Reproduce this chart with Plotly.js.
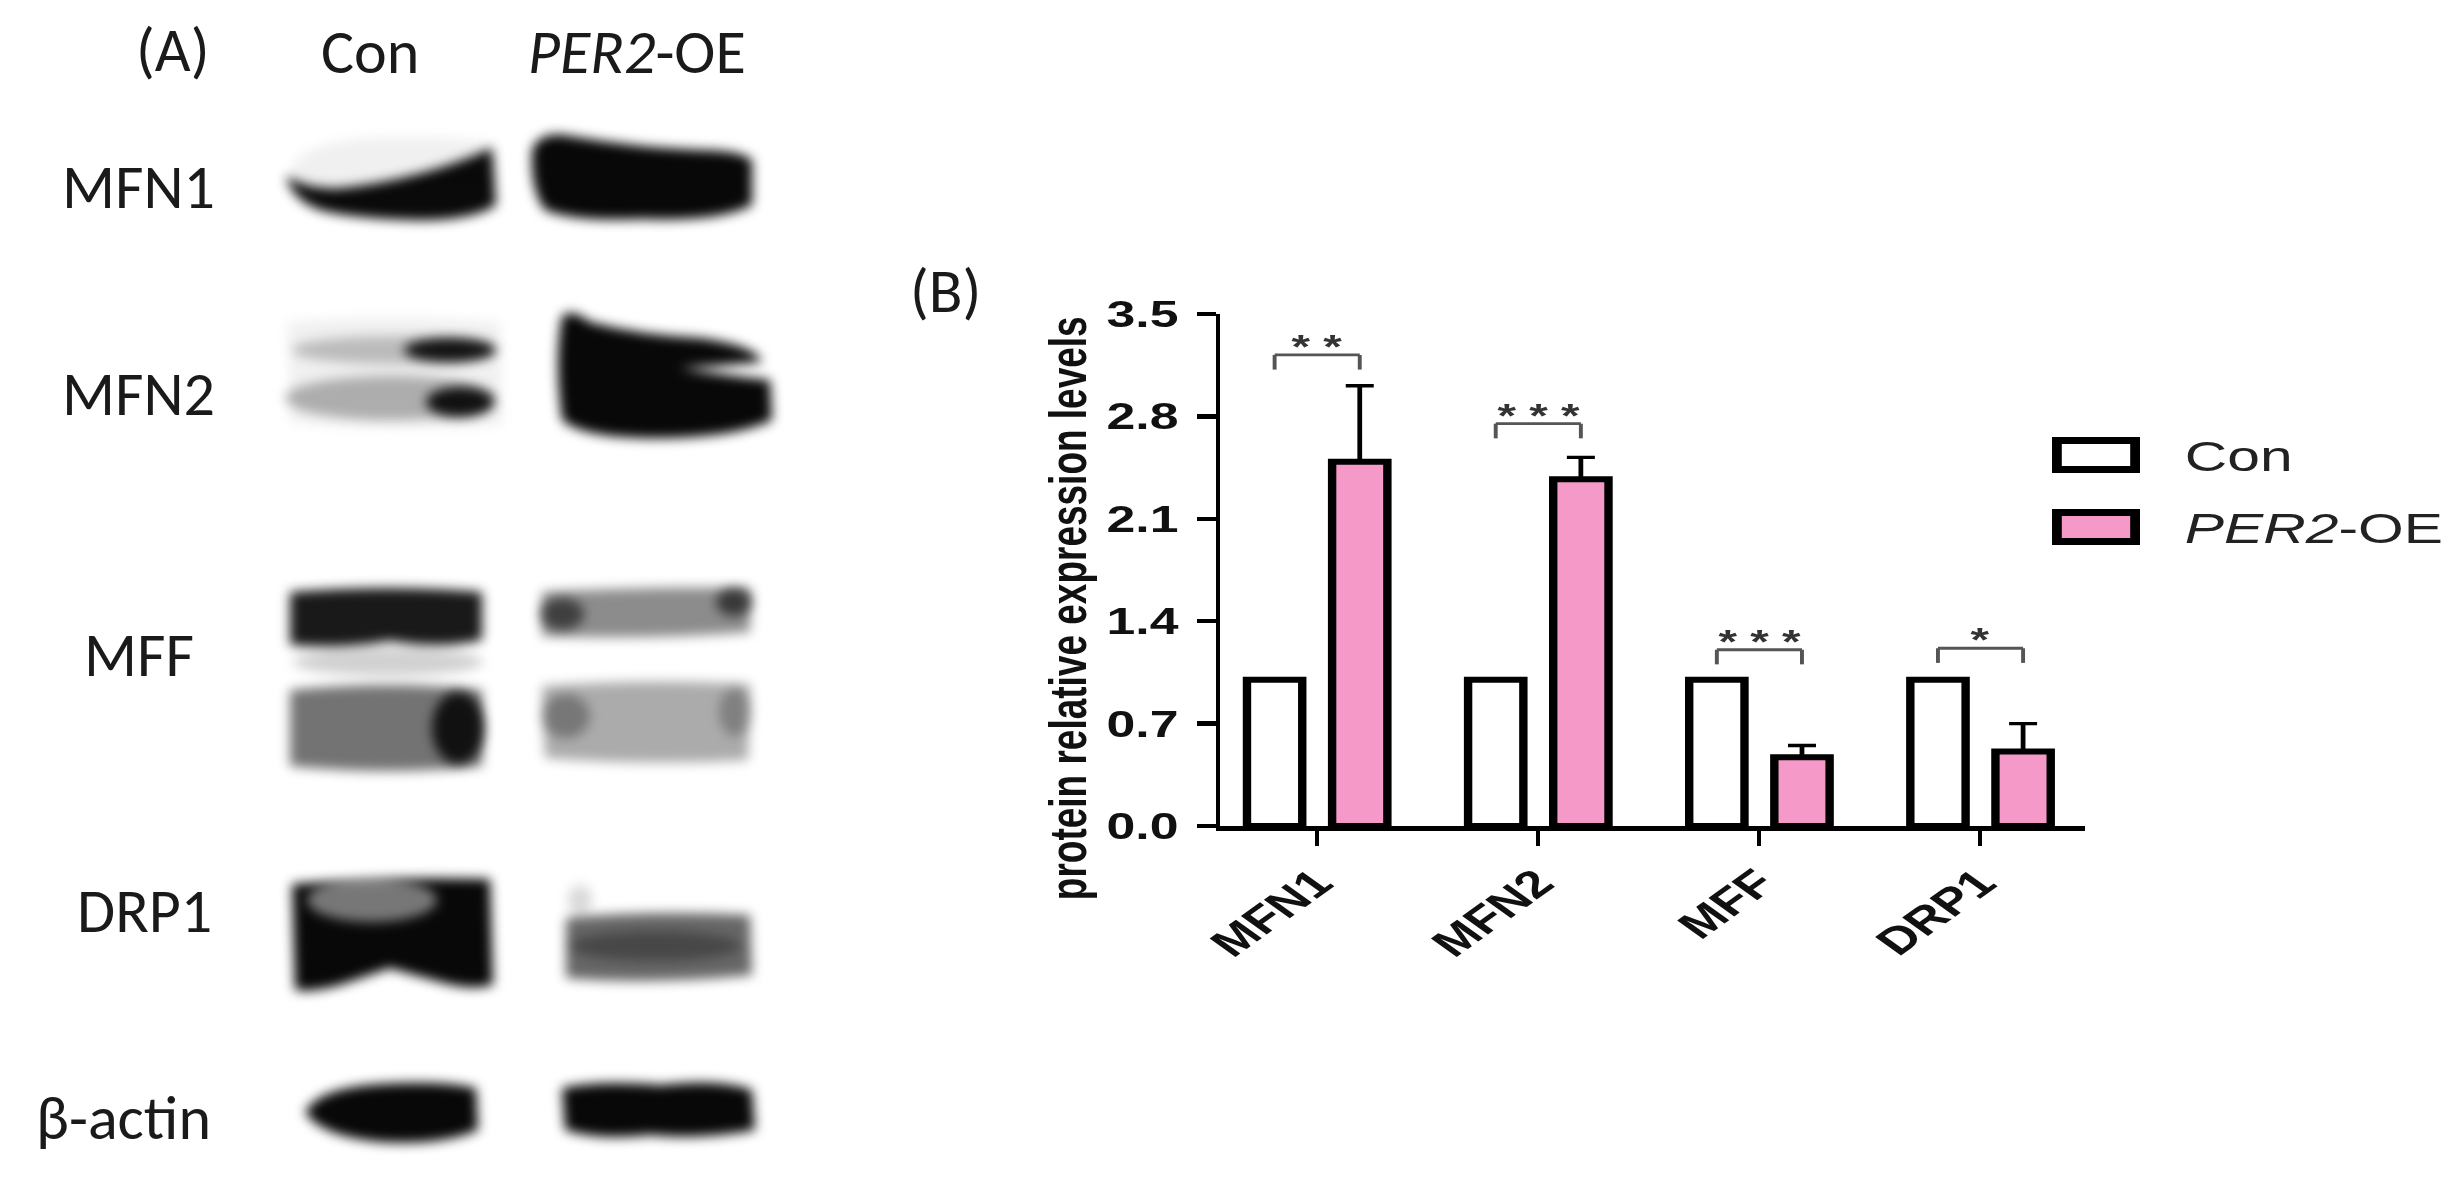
<!DOCTYPE html>
<html>
<head>
<meta charset="utf-8">
<script src="https://cdn.plot.ly/plotly-3.0.1.min.js"></script>
<style>
html, body { margin: 0; padding: 0; background: #ffffff; }
#wrap { position: relative; width: 2448px; height: 1183px; overflow: hidden; background: #ffffff; }
#panelA { position: absolute; left: 0; top: 0; width: 2448px; height: 1183px; }
#panelB { position: absolute; left: 880px; top: 0; height: 1183px; transform: scaleX(1.4); transform-origin: 0 0; }
</style>
</head>
<body>
<div id="wrap"><div id="panelA"></div><div id="panelB"></div></div>
<script>
// ---------------- data ----------------
const categories = ['MFN1', 'MFN2', 'MFF', 'DRP1'];
const conValues = [1.0, 1.0, 1.0, 1.0];
const per2Values = [2.49, 2.37, 0.47, 0.51];
const per2Errors = [0.52, 0.15, 0.08, 0.19];
const significance = ['**', '***', '***', '*'];
const bracketLevels = [3.22, 2.75, 1.205, 1.215];
const yTicks = [0, 0.7, 1.4, 2.1, 2.8, 3.5];
const seriesNames = ['Con', '<i>PER2</i>-OE'];
const blotRows = ['MFN1', 'MFN2', 'MFF', 'DRP1', 'β-actin'];
const blotLanes = ['Con', '<i>PER2</i>-OE'];

// ---------------- geometry / style ----------------
const W = 2448, H = 1183;
const S = 1.4, BX0 = 880, WB = (W - BX0) / S;
const bx = X => (X - BX0) / S;
const pxB = X => bx(X) / WB;
const pyP = Y => 1 - Y / H;
const PINK = '#f59ac8';
const BOLD_FONT = 'Liberation Sans, Arial, Helvetica, sans-serif';
const A_FONT = 'Carlito, Lato, Calibri, sans-serif';
const conCenter = -0.19, perCenter = 0.195, barW = 0.25;
const xIdx = categories.map((c, i) => i);

// ---------------- panel B: bar chart ----------------
const traces = [
  {
    type: 'bar', name: 'Con', x: xIdx, y: conValues,
    width: barW, offset: conCenter - barW / 2,
    marker: { color: '#ffffff', line: { color: '#000000', width: 6 } },
    hoverinfo: 'skip'
  },
  {
    type: 'bar', name: 'PER2-OE', x: xIdx, y: per2Values,
    width: barW, offset: perCenter - barW / 2,
    marker: { color: PINK, line: { color: '#000000', width: 6 } },
    error_y: { type: 'data', array: per2Errors, arrayminus: per2Errors.map(() => 0), symmetric: false,
               color: '#000000', thickness: 3.4, width: 10 },
    hoverinfo: 'skip'
  }
];

const shapesB = [];
const annB = [];
const drop = 0.1;
categories.forEach((c, i) => {
  const x0 = i + conCenter, x1 = i + perCenter, y = bracketLevels[i];
  const ln = { color: '#555555', width: 2.8 };
  shapesB.push({ type: 'line', xref: 'x', yref: 'y', x0: x0, x1: x1, y0: y, y1: y, line: ln });
  shapesB.push({ type: 'line', xref: 'x', yref: 'y', x0: x0, x1: x0, y0: y, y1: y - drop, line: ln });
  shapesB.push({ type: 'line', xref: 'x', yref: 'y', x0: x1, x1: x1, y0: y, y1: y - drop, line: ln });
  annB.push({ xref: 'x', yref: 'y', x: (x0 + x1) / 2, y: y, yanchor: 'middle', xanchor: 'center', yshift: 9,
              text: significance[i].split('').join(' '), showarrow: false,
              font: { family: BOLD_FONT, size: 34, weight: 'bold', color: '#333333' } });
});

// legend (drawn)
const legendRows = [{ top: 437, bottom: 473, fill: '#ffffff' }, { top: 509, bottom: 545, fill: PINK }];
legendRows.forEach((r, k) => {
  shapesB.push({ type: 'rect', xref: 'paper', yref: 'paper',
    x0: pxB(2052 + 4.9), x1: pxB(2140 - 4.9), y0: pyP(r.bottom - 3.5), y1: pyP(r.top + 3.5),
    fillcolor: r.fill, line: { color: '#000000', width: 7 } });
  annB.push({ xref: 'paper', yref: 'paper', x: pxB(2182), y: pyP((r.top + r.bottom) / 2 + 1),
    xanchor: 'left', yanchor: 'middle', text: seriesNames[k], showarrow: false,
    font: { family: BOLD_FONT, size: 42, color: '#222222' } });
});

// y-axis title
annB.push({ xref: 'paper', yref: 'paper', x: pxB(1068), y: pyP(608), xanchor: 'center', yanchor: 'middle',
  textangle: -90, text: 'protein relative expression levels', showarrow: false,
  font: { family: BOLD_FONT, size: 37, weight: 'bold', color: '#111111' } });

const layoutB = {
  width: WB, height: H,
  margin: { l: 0, r: 0, t: 0, b: 0 },
  paper_bgcolor: 'rgba(0,0,0,0)', plot_bgcolor: 'rgba(0,0,0,0)',
  showlegend: false, barmode: 'overlay',
  xaxis: {
    domain: [pxB(1220), pxB(2085)], range: [-0.437, 3.475],
    tickmode: 'array', tickvals: xIdx, ticktext: categories, tickangle: -45,
    showline: true, linewidth: 4.5, linecolor: '#000000',
    ticks: 'outside', ticklen: 15, tickwidth: 3, tickcolor: '#000000',
    showgrid: false, zeroline: false, fixedrange: true,
    tickfont: { family: BOLD_FONT, size: 38, weight: 'bold', color: '#111111' }
  },
  yaxis: {
    domain: [pyP(826), pyP(314)], range: [0, 3.5],
    tickmode: 'array', tickvals: yTicks, ticktext: yTicks.map(v => v.toFixed(1)),
    showline: true, linewidth: 3.2, linecolor: '#000000',
    ticks: 'outside', ticklen: 13, tickwidth: 4.5, tickcolor: '#000000',
    ticklabelstandoff: 6,
    showgrid: false, zeroline: false, fixedrange: true,
    tickfont: { family: BOLD_FONT, size: 37, weight: 'bold', color: '#111111' }
  },
  shapes: shapesB,
  annotations: annB
};

// ---------------- panel A: western blot (picture, approximated) ----------------
function ell(cx, cy, rx, ry) {
  const k = 0.5523, ox = rx * k, oy = ry * k;
  return `M ${cx - rx} ${cy} C ${cx - rx} ${cy - oy} ${cx - ox} ${cy - ry} ${cx} ${cy - ry} ` +
         `C ${cx + ox} ${cy - ry} ${cx + rx} ${cy - oy} ${cx + rx} ${cy} ` +
         `C ${cx + rx} ${cy + oy} ${cx + ox} ${cy + ry} ${cx} ${cy + ry} ` +
         `C ${cx - ox} ${cy + ry} ${cx - rx} ${cy + oy} ${cx - rx} ${cy} Z`;
}
const k = a => `rgba(0,0,0,${a})`;
const blotShapes = [
  // MFN1
  { p: 'M 292 165 Q 310 140 380 138 Q 460 136 494 144 L 496 185 Q 420 195 340 190 Q 300 188 292 175 Z', f: k(0.06) },
  { p: 'M 286 176 Q 310 190 340 188 Q 420 180 492 148 L 496 205 Q 470 222 410 220 Q 350 218 320 210 Q 292 200 286 176 Z', f: k(0.96) },
  { p: 'M 532 150 Q 540 130 570 136 Q 640 148 700 150 Q 740 150 752 160 L 752 205 Q 720 222 640 219 Q 575 222 545 210 Q 530 190 532 150 Z', f: k(0.97) },
  // MFN2
  { p: 'M 288 322 Q 390 314 500 322 L 502 424 Q 400 432 290 422 Z', f: k(0.06) },
  { p: ell(392, 350, 100, 14), f: k(0.22) },
  { p: ell(450, 350, 46, 12), f: k(0.9) },
  { p: ell(390, 398, 105, 22), f: k(0.28) },
  { p: ell(460, 402, 34, 15), f: k(0.9) },
  { p: 'M 562 316 Q 572 308 590 322 Q 640 335 700 338 Q 745 344 758 356 L 762 362 Q 720 366 680 368 Q 730 376 770 380 L 772 420 Q 730 440 640 438 Q 580 436 562 420 Q 554 360 562 316 Z', f: k(0.97) },
  // MFF
  { p: 'M 290 592 Q 390 584 482 592 L 482 640 Q 440 650 390 641 Q 340 650 290 645 Z', f: k(0.9) },
  { p: ell(388, 662, 95, 14), f: k(0.18) },
  { p: 'M 290 690 Q 390 680 482 690 L 482 766 Q 390 776 290 766 Z', f: k(0.55) },
  { p: ell(458, 728, 26, 36), f: k(0.85) },
  { p: 'M 542 592 Q 650 586 750 588 L 750 632 Q 650 640 542 636 Z', f: k(0.45) },
  { p: ell(562, 614, 22, 16), f: k(0.55) },
  { p: ell(734, 602, 18, 14), f: k(0.6) },
  { p: 'M 542 686 Q 650 678 750 684 L 748 760 Q 650 766 545 758 Z', f: k(0.33) },
  { p: ell(566, 716, 24, 22), f: k(0.3) },
  { p: ell(735, 712, 16, 24), f: k(0.25) },
  // DRP1
  { p: 'M 292 884 Q 390 876 490 879 L 493 985 Q 470 991 440 982 Q 400 971 390 968 Q 370 975 340 985 Q 310 993 295 990 Z', f: k(0.97) },
  { p: ell(372, 900, 65, 22), f: 'rgba(255,255,255,0.45)' },
  { p: 'M 566 918 Q 650 910 750 915 L 752 975 Q 650 985 566 978 Z', f: k(0.6) },
  { p: ell(580, 900, 12, 15), f: k(0.15) },
  { p: ell(655, 946, 85, 15), f: k(0.3) },
  // beta-actin
  { p: 'M 305 1112 Q 318 1088 380 1084 Q 440 1080 476 1088 L 478 1130 Q 440 1146 380 1142 Q 320 1136 305 1112 Z', f: k(0.97) },
  { p: 'M 562 1088 Q 600 1080 660 1085 Q 720 1078 752 1090 L 755 1130 Q 700 1140 650 1135 Q 600 1141 565 1130 Z', f: k(0.97) }
];
const shapesA = blotShapes.map(b => ({ type: 'path', xref: 'x', yref: 'y', path: b.p, fillcolor: b.f, line: { width: 0 } }));

const rowLabelPos = [[138, 187], [138, 394], [139, 655], [144, 911], [123, 1118]];
const laneLabelPos = [[370, 52], [637, 52]];
const annA = [];
const fA = { family: A_FONT, size: 62, color: '#1a1a1a' };
annA.push({ xref: 'x', yref: 'y', x: 172, y: 50, text: '(A)', showarrow: false, font: fA, xanchor: 'center', yanchor: 'middle' });
annA.push({ xref: 'x', yref: 'y', x: 945, y: 291, text: '(B)', showarrow: false, font: fA, xanchor: 'center', yanchor: 'middle' });
blotLanes.forEach((t, i) => annA.push({ xref: 'x', yref: 'y', x: laneLabelPos[i][0], y: laneLabelPos[i][1], text: t,
  showarrow: false, font: fA, xanchor: 'center', yanchor: 'middle' }));
blotRows.forEach((t, i) => annA.push({ xref: 'x', yref: 'y', x: rowLabelPos[i][0], y: rowLabelPos[i][1], text: t,
  showarrow: false, font: fA, xanchor: 'center', yanchor: 'middle' }));

const layoutA = {
  width: W, height: H, margin: { l: 0, r: 0, t: 0, b: 0 },
  paper_bgcolor: '#ffffff', plot_bgcolor: '#ffffff', showlegend: false,
  xaxis: { range: [0, W], visible: false, fixedrange: true },
  yaxis: { range: [H, 0], visible: false, fixedrange: true },
  shapes: shapesA, annotations: annA
};

Plotly.newPlot('panelA', [], layoutA, { displayModeBar: false, staticPlot: true }).then(gd => {
  const NS = 'http://www.w3.org/2000/svg';
  const svg = gd.querySelector('svg.main-svg');
  let defs = svg.querySelector('defs');
  if (!defs) { defs = document.createElementNS(NS, 'defs'); svg.insertBefore(defs, svg.firstChild); }
  const filt = document.createElementNS(NS, 'filter');
  filt.setAttribute('id', 'blotblur');
  filt.setAttribute('x', '-50%'); filt.setAttribute('y', '-50%');
  filt.setAttribute('width', '200%'); filt.setAttribute('height', '200%');
  const blur = document.createElementNS(NS, 'feGaussianBlur');
  blur.setAttribute('stdDeviation', '6');
  filt.appendChild(blur);
  defs.appendChild(filt);
  gd.querySelectorAll('.shapelayer path').forEach(p => p.setAttribute('filter', 'url(#blotblur)'));
});

document.getElementById('panelB').style.width = WB + 'px';
Plotly.newPlot('panelB', traces, layoutB, { displayModeBar: false, staticPlot: true });
</script>
</body>
</html>
